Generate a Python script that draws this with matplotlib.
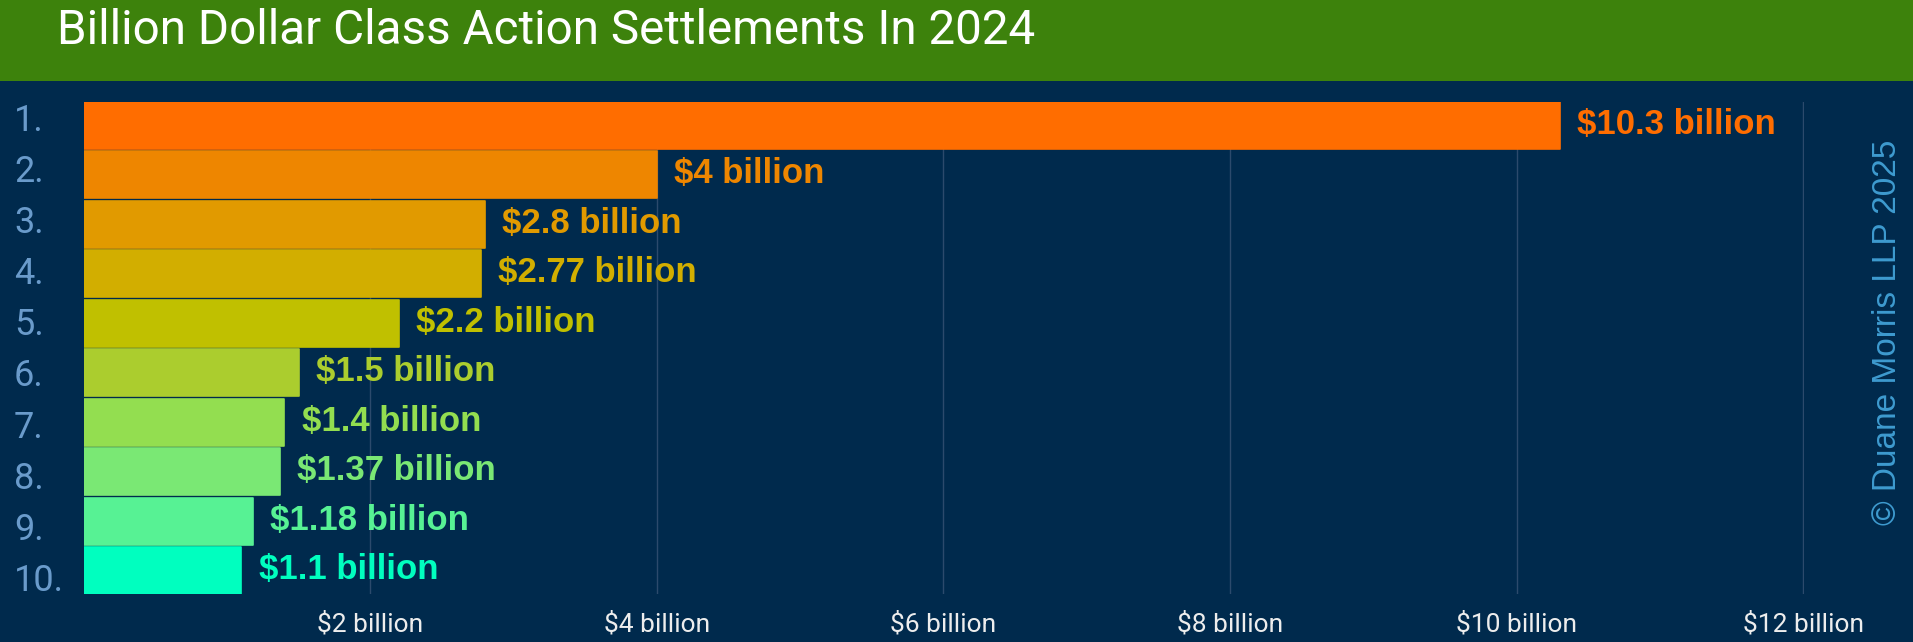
import matplotlib
matplotlib.use("Agg")
import matplotlib.pyplot as plt
from matplotlib.patches import Rectangle
import matplotlib.transforms as mtransforms

# ---- data ----
title = "Billion Dollar Class Action Settlements In 2024"
ranks = ["1.", "2.", "3.", "4.", "5.", "6.", "7.", "8.", "9.", "10."]
values = [10.3, 4.0, 2.8, 2.77, 2.2, 1.5, 1.4, 1.37, 1.18, 1.1]
value_labels = ["$10.3 billion", "$4 billion", "$2.8 billion", "$2.77 billion",
                "$2.2 billion", "$1.5 billion", "$1.4 billion", "$1.37 billion",
                "$1.18 billion", "$1.1 billion"]
bar_colors = ["#FF6D00", "#EE8600", "#E19A00", "#D2AE00", "#C0C000",
              "#ABCD2E", "#93DE50", "#7AE874", "#57F294", "#00FFBF"]
x_ticks = [2, 4, 6, 8, 10, 12]
x_tick_labels = ["$2 billion", "$4 billion", "$6 billion", "$8 billion",
                 "$10 billion", "$12 billion"]
credit = "© Duane Morris LLP 2025"

BG = "#002A4D"
GREEN = "#3D820C"

W, H = 1913, 642
fig = plt.figure(figsize=(W / 100, H / 100), dpi=100, facecolor=BG)

# header band
fig.patches.append(Rectangle((0, 1 - 80.5 / H), 1, 80.5 / H, transform=fig.transFigure,
                             facecolor=GREEN, edgecolor="none", zorder=0))
fig.text(57 / W, 1 - 44 / H, title, fontsize=34.3, color="white", va="baseline",
         ha="left", family="Roboto")

ax = fig.add_axes([83.5 / W, 1 - 594 / H, (1803.5 - 83.5) / W, (594 - 102) / H])
ax.set_facecolor(BG)
ypos = list(range(len(values)))
ax.barh(ypos, values, height=0.94, color=bar_colors, edgecolor=bar_colors,
        linewidth=1.2, joinstyle="round", zorder=2)
ax.set_xlim(0, 12)
ax.set_ylim(len(values) - 0.53, -0.47)

ax.set_xticks(x_ticks)
ax.set_xticklabels([s.replace("$", "\\$") for s in x_tick_labels], fontsize=19,
                   color="#EDEDED", family="Roboto")
ax.tick_params(axis="x", length=0, pad=13)
ax.set_yticks([])
ax.grid(axis="x", color="#2C4A6C", linewidth=1)
ax.set_axisbelow(True)
for s in ax.spines.values():
    s.set_visible(False)

# value labels
for y, v, lab, c in zip(ypos, values, value_labels, bar_colors):
    ax.annotate(lab.replace("$", "\\$"), xy=(v, y), xytext=(12.5, -6), textcoords="offset points",
                fontsize=25, fontweight="bold", color=c, va="baseline", ha="left",
                family="Liberation Sans", annotation_clip=False)

# rank labels (figure x, data y slightly stretched like the original list)
trans = mtransforms.blended_transform_factory(fig.transFigure, ax.transData)
mid = (len(values) - 1) / 2
for y, r in zip(ypos, ranks):
    yy = mid + (y - mid) * 1.032
    ax.annotate(r, xy=(14 / W, yy), xycoords=trans, xytext=(0, -9.3),
                textcoords="offset points", fontsize=26, color="#6A9BCB",
                va="baseline", ha="left", family="Roboto", annotation_clip=False)

fig.text(1888 / W, 1 - 332 / H, credit, rotation=90, fontsize=24, color="#3E9BD0",
         va="center", ha="center", family="Liberation Sans")

fig.savefig("out.png", dpi=100, facecolor=BG)
